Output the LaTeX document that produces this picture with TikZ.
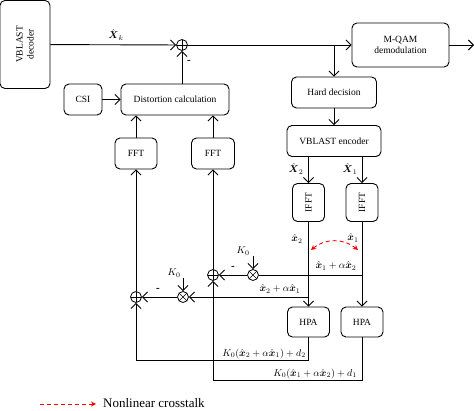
\documentclass[tikz,border=0pt]{standalone}
\usepackage{amsmath}
\usepackage{amssymb}
\usepackage{fontspec}
\setmainfont{Liberation Serif}
\usepackage{tikz}
\usetikzlibrary{arrows.meta}
\usepackage{xcolor}
\tikzset{>={Straight Barb[length=5pt,width=10pt]}}
\tikzset{
  blockNode/.style={shape=rectangle,rounded corners=5pt,draw,line width=0.9pt,align=center,inner sep=1pt,font=\fontsize{9.5}{11}\selectfont},
  sumNode/.style={circle,draw,line width=0.8pt,inner sep=0pt,minimum size=11pt,
    path picture={\draw[line width=0.7pt] (path picture bounding box.north) -- (path picture bounding box.south)
      (path picture bounding box.west) -- (path picture bounding box.east);}},
  mulNode/.style={circle,draw,line width=0.8pt,inner sep=0pt,minimum size=11pt,
    path picture={\draw[line width=0.7pt] (path picture bounding box.north west) -- (path picture bounding box.south east)
      (path picture bounding box.south west) -- (path picture bounding box.north east);}},
  mathLbl/.style={inner sep=1pt,font=\fontsize{10}{11}\selectfont},
  minusLbl/.style={inner sep=0pt,font=\fontsize{11}{12}\selectfont\bfseries},
  sigLink/.style={draw=black,->,line width=0.9pt},
  plainLink/.style={draw=black,-,line width=0.9pt},
  crossLink/.style={draw=red,line width=0.9pt,dash pattern=on 4pt off 3pt}
}

\begin{document}
\begin{tikzpicture}[x=1pt,y=-1pt]
        \useasboundingbox (0,0) rectangle (474,411);

        % top row
        \node[minimum width=88pt,minimum height=50pt,rotate=90,font=\fontsize{10.5}{12}\selectfont] (dec) [blockNode] at (25,44.5) {VBLAST\\decoder};
        \node (sum0) [sumNode] at (182,45) {};
        \node[minimum width=97pt,minimum height=44pt] (mqam) [blockNode] at (400.5,45) {M-QAM\\demodulation};
        \coordinate (out) at (474,45);
        \coordinate (br) at (334,45);

        % receiver side
        \node[minimum width=85pt,minimum height=31pt] (hard) [blockNode] at (334,92.5) {Hard decision};
        \node[minimum width=94pt,minimum height=31pt] (enc) [blockNode] at (334,141) {VBLAST encoder};
        \node[minimum width=38pt,minimum height=32pt,rotate=90] (ifftL) [blockNode] at (308.5,202.5) {IFFT};
        \node[minimum width=38pt,minimum height=32pt,rotate=90] (ifftR) [blockNode] at (362,202.5) {IFFT};
        \node[minimum width=42pt,minimum height=30pt] (hpaL) [blockNode] at (308.5,322) {HPA};
        \node[minimum width=42pt,minimum height=30pt] (hpaR) [blockNode] at (362,322) {HPA};

        % distortion estimate
        \node[minimum width=38pt,minimum height=31pt] (csi) [blockNode] at (83,99.5) {CSI};
        \node[minimum width=108pt,minimum height=31pt] (dist) [blockNode] at (175,99.5) {Distortion calculation};
        \node[minimum width=42pt,minimum height=31pt] (fftL) [blockNode] at (136,153.5) {FFT};
        \node[minimum width=43pt,minimum height=31pt] (fftR) [blockNode] at (213,153.5) {FFT};

        \node (sumR) [sumNode] at (213,275) {};
        \node (mulR) [mulNode] at (253,275) {};
        \node (sumL) [sumNode] at (136,297) {};
        \node (mulL) [mulNode] at (183,297) {};
        \coordinate (tapR) at (362,275);
        \coordinate (tapL) at (308.5,297);
        \coordinate (kR) at (253,256);
        \coordinate (kL) at (183,278);
        \coordinate (cornL) at (136,360);
        \coordinate (cornR) at (213,380);

        % crosstalk
        \coordinate (xtA) at (311,250);
        \coordinate (xtB) at (358,250);

        % legend
        \coordinate (lgA) at (40,404);
        \coordinate (lgB) at (96,404);
        \node[anchor=west,inner sep=0pt,font=\fontsize{13}{15}\selectfont] (lgText) at (103,403) {Nonlinear crosstalk};

        % labels
        \node (lXk) [mathLbl] at (116,35) {$\hat{\boldsymbol{X}}_k$};
        \node (lm0) [minusLbl] at (189,62) {-};
        \node (lX2) [mathLbl] at (296,169) {$\hat{\boldsymbol{X}}_2$};
        \node (lX1) [mathLbl] at (350,169) {$\hat{\boldsymbol{X}}_1$};
        \node (lx2) [mathLbl] at (297,239) {$\hat{\boldsymbol{x}}_2$};
        \node (lx1) [mathLbl] at (353,238) {$\hat{\boldsymbol{x}}_1$};
        \node (lmixR) [mathLbl] at (336,266) {$\hat{\boldsymbol{x}}_1+\alpha\hat{\boldsymbol{x}}_2$};
        \node (lmixL) [mathLbl] at (280,289) {$\hat{\boldsymbol{x}}_2+\alpha\hat{\boldsymbol{x}}_1$};
        \node (lK0R) [mathLbl] at (243,251) {$K_0$};
        \node (lK0L) [mathLbl] at (174,273) {$K_0$};
        \node (lmR) [minusLbl] at (233,268) {-};
        \node (lmL) [minusLbl] at (158,290) {-};
        \node[anchor=south east] (loutL) [mathLbl] at (307,360) {$K_0(\hat{\boldsymbol{x}}_2+\alpha\hat{\boldsymbol{x}}_1)+d_2$};
        \node[anchor=south east] (loutR) [mathLbl] at (358,380) {$K_0(\hat{\boldsymbol{x}}_1+\alpha\hat{\boldsymbol{x}}_2)+d_1$};

        \path
    (dec) edge [sigLink] (sum0)
    (sum0) edge [sigLink] (mqam)
    (mqam) edge [sigLink] (out)
    (br) edge [sigLink] (hard)
    (hard) edge [sigLink] (enc)
    (enc.south -| ifftL.east) edge [sigLink] (ifftL.east)
    (enc.south -| ifftR.east) edge [sigLink] (ifftR.east)
    (ifftL.west) edge [sigLink] (hpaL)
    (ifftR.west) edge [sigLink] (hpaR)
    (tapR) edge [plainLink] (mulR)
    (tapL) edge [sigLink] (mulL)
    (kR) edge [sigLink] (mulR)
    (kL) edge [sigLink] (mulL)
    (mulR) edge [sigLink] (sumR)
    (mulL) edge [sigLink] (sumL)
    (sumR) edge [sigLink] (fftR)
    (sumL) edge [sigLink] (fftL)
    (fftL) edge [sigLink] (fftL |- dist.south)
    (fftR) edge [sigLink] (fftR |- dist.south)
    (csi) edge [sigLink] (dist)
    (dist.north -| sum0) edge [sigLink] (sum0);

        \draw [sigLink] (hpaL) |- (cornL) -- (sumL);
        \draw [sigLink] (hpaR) |- (cornR) -- (sumR);
        \draw [crossLink,{Stealth[length=5pt,width=5pt]}-{Stealth[length=5pt,width=5pt]}] (xtA) to[bend left=40] (xtB);
        \draw [crossLink,-{Stealth[length=5pt,width=5pt]}] (lgA) -- (lgB);

\end{tikzpicture}
\end{document}
